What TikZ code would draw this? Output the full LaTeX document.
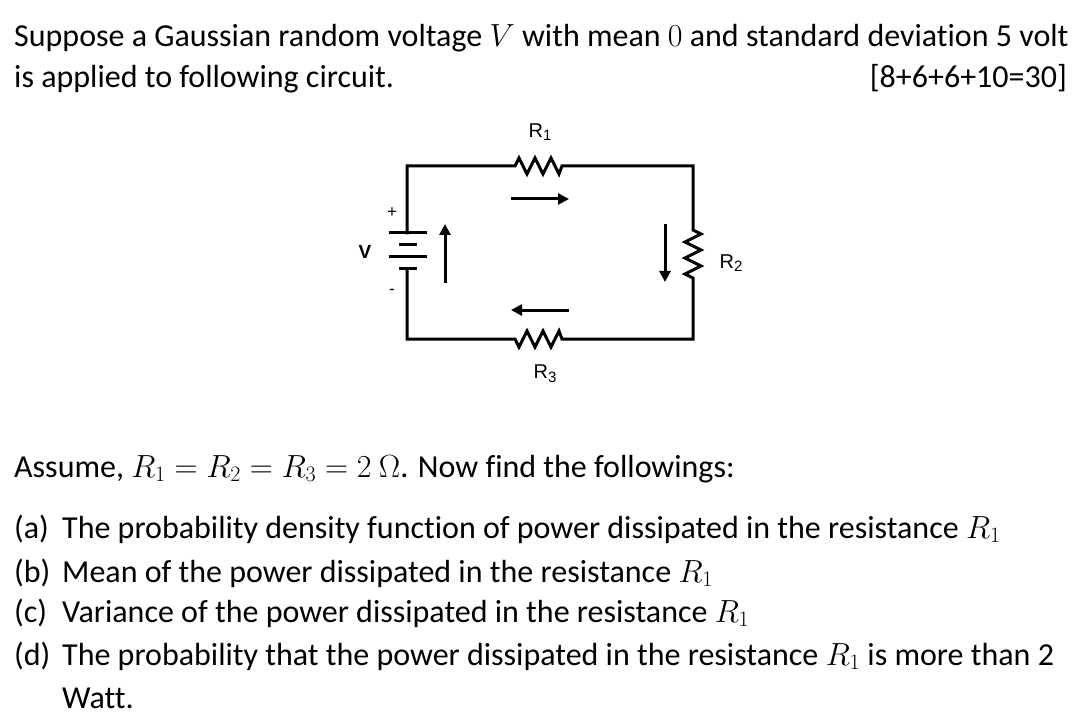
\RequirePackage{fix-cm}
\documentclass[tikz,border=0pt]{standalone}
\usepackage{fontspec}
\setmainfont{Carlito}[Ligatures=NoCommon]
\newfontfamily\circfont{Liberation Sans}
\usetikzlibrary{arrows.meta}
\DeclareMathSizes{32}{32}{22}{16}
\newcommand{\mysub}[1]{\raisebox{-0.35ex}{\fontsize{15}{15}\selectfont #1}}
\newcommand{\itm}[1]{\makebox[48pt][l]{#1}}
\begin{document}
\begin{tikzpicture}[x=1pt,y=-1pt,
  txt/.style={anchor=base west,inner sep=0pt,font=\fontsize{32}{36}\selectfont},
  lab/.style={inner sep=0pt,font=\circfont\fontsize{20}{22}\selectfont},
  wire/.style={line width=3pt,line cap=rect,line join=miter},
  cur/.style={line width=3pt,-{Triangle[length=11pt,width=11pt]}}]
\useasboundingbox (0,0) rectangle (1084,727);
\node[txt] (l1) at (14,47) {Suppose a Gaussian random voltage $V$ with mean $0$ and standard deviation 5 volt};
\node[txt] (l2) at (14,88) {is applied to following circuit.};
\node[txt,anchor=base east] (pts) at (1067,88) {[8+6+6+10=30]};
% circuit
\coordinate (bt) at (407,233);
\coordinate (bb) at (407,269);
\draw[wire] (bt) -- (407,166) -- (515,166)
  -- (519,158) -- (527,174) -- (535,158) -- (543,174) -- (551,158) -- (559,174) -- (562,166)
  -- (693,166) -- (693,230)
  -- (701,234) -- (685,242) -- (701,250) -- (685,258) -- (701,266) -- (685,274) -- (693,278)
  -- (693,339) -- (562,339)
  -- (559,331) -- (551,347) -- (543,331) -- (535,347) -- (527,331) -- (519,347) -- (515,339)
  -- (407,339) -- (bb);
\draw[wire,line cap=butt] (389,233) -- (427,233);
\draw[wire,line cap=butt] (399,245) -- (417,245);
\draw[wire,line cap=butt] (389,257) -- (427,257);
\draw[wire,line cap=butt] (399,269) -- (417,269);
\node[lab] (plus) at (392,213) {\fontsize{17}{17}\selectfont +};
\node[lab] (minus) at (392,292) {\fontsize{17}{17}\selectfont -};
\node[lab,font=\circfont\bfseries\fontsize{19}{19}\selectfont] (V) at (365,252) {V};
\node[lab] (R1) at (540,132) {R\mysub{1}};
\node[lab] (R2) at (731,263) {R\mysub{2}};
\node[lab] (R3) at (545,374) {R\mysub{3}};
\coordinate (a1s) at (445,283); \coordinate (a1e) at (445,224);
\coordinate (a2s) at (511,199); \coordinate (a2e) at (569,199);
\coordinate (a3s) at (665,224); \coordinate (a3e) at (665,282);
\coordinate (a4s) at (569,310); \coordinate (a4e) at (511,310);
\draw[cur] (a1s) -- (a1e);
\draw[cur] (a2s) -- (a2e);
\draw[cur] (a3s) -- (a3e);
\draw[cur] (a4s) -- (a4e);
\node[txt] (as) at (14,477) {Assume, $R_1=R_2=R_3=2\ \Omega$. Now find the followings:};
\node[txt] (qa) at (14,538) {\itm{(a)}The probability density function of power dissipated in the resistance $R_1$};
\node[txt] (qb) at (14,582) {\itm{(b)}Mean of the power dissipated in the resistance $R_1$};
\node[txt] (qc) at (14,622) {\itm{(c)}Variance of the power dissipated in the resistance $R_1$};
\node[txt] (qd) at (14,665) {\itm{(d)}The probability that the power dissipated in the resistance $R_1$ is more than 2};
\node[txt] (qw) at (62,708) {Watt.};
\end{tikzpicture}
\end{document}
